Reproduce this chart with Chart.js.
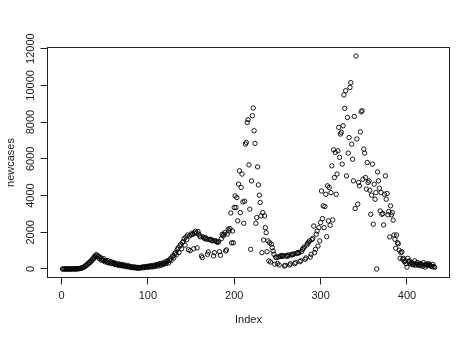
<!DOCTYPE html>
<html>
<head>
<meta charset="utf-8">
<script src="https://cdn.jsdelivr.net/npm/chart.js@4.4.0/dist/chart.umd.min.js"></script>
<style>
  html, body { margin: 0; padding: 0; background: #fff; }
  canvas { display: block; }
</style>
</head>
<body>
<canvas id="plot" width="474" height="338"></canvas>
<script>
// daily new cases
const newcases = [
  0, 0, 0, 0, 0, 1, 0, 0, 3, 0, 2, 0, 4, 1, 6, 3, 8, 5, 12, 18,
  25, 40, 45, 70, 80, 120, 130, 190, 200, 280, 270, 360, 350, 450, 440, 560, 540, 680, 650, 780,
  740, 660, 700, 560, 630, 480, 540, 470, 560, 400, 460, 430, 350, 450, 330, 370, 400, 290, 320, 360,
  280, 240, 310, 250, 210, 280, 190, 220, 250, 170, 180, 230, 150, 160, 200, 120, 140, 170, 100, 120,
  80, 120, 70, 90, 110, 50, 60, 90, 40, 50, 80, 60, 90, 110, 60, 120, 90, 130, 140, 90,
  150, 110, 180, 140, 110, 200, 170, 130, 220, 190, 240, 160, 260, 290, 190, 310, 250, 330, 270, 380,
  300, 400, 450, 330, 480, 560, 460, 650, 720, 600, 820, 900, 780, 1050, 1150, 900, 1250, 1350, 1100, 1450,
  1500, 1650, 1300, 1750, 1600, 1850, 1050, 1800, 1000, 1850, 1950, 1890, 1100, 1960, 2050, 1950, 1150, 2040, 1900, 1800,
  1750, 710, 620, 1750, 1700, 1650, 1700, 1620, 800, 930, 1600, 1620, 1560, 1580, 1530, 710, 890, 1550, 1500, 1470,
  1450, 1500, 940, 750, 1650, 1890, 1800, 1890, 1980, 980, 1040, 1900, 2170, 2070, 2200, 3050, 1420, 2070, 1430, 3350,
  3980, 3350, 3890, 2620, 4620, 5350, 3070, 4440, 5170, 3650, 2490, 3690, 6800, 6890, 7980, 8130, 5670, 3260, 1070, 4800,
  8350, 8770, 7530, 6840, 2490, 2800, 5560, 4580, 4020, 3620, 2890, 890, 3070, 1580, 2890, 2250, 1980, 940, 1530, 440,
  1430, 380, 1350, 1160, 980, 800, 260, 650, 620, 300, 650, 220, 700, 680, 740, 690, 720, 160, 200, 710,
  740, 690, 770, 220, 280, 760, 800, 780, 820, 290, 350, 840, 860, 900, 880, 400, 450, 950, 1070, 1120,
  1200, 530, 600, 1310, 1400, 1450, 1530, 650, 800, 1600, 1670, 2340, 890, 1070, 1890, 2070, 1250, 2250, 1530, 2530,
  4250, 2740, 3440, 2250, 3400, 4070, 1760, 4530, 2620, 4440, 2380, 4160, 5620, 2670, 6490, 4980, 6350, 4070, 5170, 6440,
  7710, 6080, 7350, 7440, 5710, 7800, 9480, 8750, 9710, 5070, 8250, 6310, 7160, 9890, 10150, 6800, 5980, 4800, 8310, 3290,
  11600, 7080, 3530, 4710, 4530, 7470, 8560, 8620, 4890, 6530, 6310, 4980, 4350, 5800, 4710, 4800, 4290, 2980, 4020, 5710,
  2440, 4620, 3800, 4160, 0, 5290, 4800, 4400, 3160, 4160, 2980, 3020, 2400, 4070, 5070, 3800, 4110, 2950, 3130, 1750,
  3440, 2950, 3070, 2660, 1850, 1620, 1130, 1850, 1430, 1380, 1020, 580, 890, 940, 530, 580, 400, 440, 290, 100,
  580, 400, 440, 290, 350, 260, 220, 300, 440, 200, 260, 350, 250, 180, 300, 200, 260, 150, 350, 200,
  100, 250, 260, 180, 290, 220, 200, 150, 130, 250, 130, 90
];
const index = newcases.map((_, i) => i + 1);

const xTicks = [0, 100, 200, 300, 400];
const yTicks = [0, 2000, 4000, 6000, 8000, 10000, 12000];
// R pads the data range by 4% on each side
const xLimits = [-16.24, 449.24];
const yLimits = [-464, 12064];

const font = { family: '"Liberation Sans", Arial, sans-serif', size: 11 };
const ink = '#222';

// box round the plot region, as plot() draws it
const boxPlugin = {
  id: 'box',
  beforeDatasetsDraw(chart) {
    const { ctx, chartArea: a } = chart;
    ctx.save();
    ctx.strokeStyle = ink;
    ctx.lineWidth = 1;
    ctx.strokeRect(a.left, a.top, a.right - a.left, a.bottom - a.top);
    ctx.restore();
  }
};

new Chart(document.getElementById('plot'), {
  type: 'scatter',
  data: {
    datasets: [{
      data: index.map((x, i) => ({ x: x, y: newcases[i] })),
      pointStyle: 'circle',
      pointRadius: 2.2,
      pointBorderWidth: 0.9,
      borderColor: '#000',
      backgroundColor: 'rgba(0,0,0,0)'
    }]
  },
  options: {
    responsive: false,
    animation: false,
    events: [],
    layout: { padding: { left: 0, top: 47.5, right: 24.5, bottom: 0 } },
    plugins: {
      legend: { display: false },
      tooltip: { enabled: false }
    },
    scales: {
      x: {
        type: 'linear',
        min: xLimits[0],
        max: xLimits[1],
        afterBuildTicks: s => { s.ticks = xTicks.map(v => ({ value: v })); },
        afterFit: s => { s.height = 60.5; },
        border: { display: false },
        grid: { drawOnChartArea: false, drawTicks: true, tickLength: 7, color: ink },
        ticks: { font: font, color: ink, padding: 5, maxRotation: 0, callback: v => String(v) },
        title: { display: true, text: 'Index', font: font, color: ink, padding: { top: 0, bottom: 11 } }
      },
      y: {
        type: 'linear',
        min: yLimits[0],
        max: yLimits[1],
        afterBuildTicks: s => { s.ticks = yTicks.map(v => ({ value: v })); },
        afterFit: s => { s.width = 47.5; },
        border: { display: false },
        grid: { drawOnChartArea: false, drawTicks: true, tickLength: 7, color: ink },
        ticks: {
          font: font, color: ink, padding: -6,
          minRotation: 90, maxRotation: 90, crossAlign: 'center',
          callback: v => String(v)
        },
        title: { display: true, text: 'newcases', font: font, color: ink, padding: { top: 4, bottom: 0 } }
      }
    }
  },
  plugins: [boxPlugin]
});
</script>
</body>
</html>
